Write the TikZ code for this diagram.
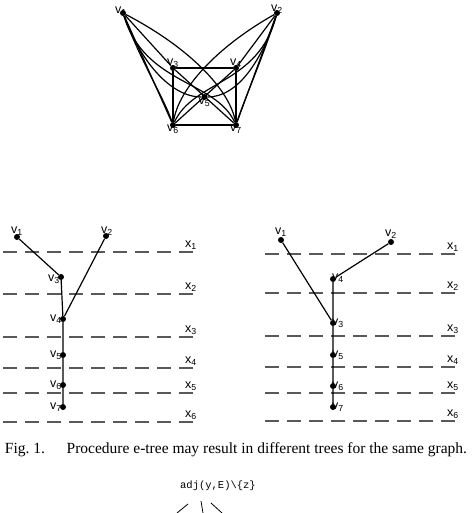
\documentclass[tikz,border=0pt]{standalone}
\usepackage{fontspec}
\setmainfont{Liberation Serif}
\setmonofont{Liberation Mono}
\newfontfamily\labfont{Liberation Sans}
\usepackage{tikz}
\usetikzlibrary{arrows.meta}
\usetikzlibrary{positioning}

\newcommand{\vl}[1]{{\labfont v\textsubscript{#1}}}
\newcommand{\xl}[1]{{\labfont x\textsubscript{#1}}}

\tikzset{
  vtx/.style={circle, fill, inner sep=0pt, minimum size=6pt},
  lab/.style={inner sep=1pt, font=\fontsize{12.5}{14}\selectfont},
  level/.style={black!65, line width=1.1pt, dash pattern=on 14pt off 8pt},
  edge/.style={line width=1.2pt}
}

\begin{document}
\begin{tikzpicture}[x=1pt, y=-1pt]
        \useasboundingbox (0, 0) rectangle (474, 513);

        % the graph
        \node [vtx] (g1) at (123, 13) {};
        \node [vtx] (g2) at (277, 13) {};
        \node [vtx] (g3) at (173, 68) {};
        \node [vtx] (g4) at (236, 68) {};
        \node [vtx] (g5) at (204.5, 97) {};
        \node [vtx] (g6) at (173, 125) {};
        \node [vtx] (g7) at (236, 125) {};
        \node [lab, above left=-4pt and -5pt] at (g1) {\vl{1}};
        \node [lab, above=-2pt] at (g2) {\vl{2}};
        \node [lab, above=-1pt] at (g3) {\vl{3}};
        \node [lab, above left=-1pt and -7pt] at (g4) {\vl{4}};
        \node [lab, below=0pt] at (g5) {\vl{5}};
        \node [lab, below=-1pt] at (g6) {\vl{6}};
        \node [lab, below=-1pt] at (g7) {\vl{7}};
        \draw [edge] (g3) -- (g4) -- (g7) -- (g6) -- (g3);
        \draw [edge] (g3) -- (g7);
        \draw [edge] (g4) -- (g6);
        \draw [edge] (g1) -- (g3);
        \draw [edge] (g1) -- (g6);
        \draw [edge] (g1) .. controls (190, 48) and (230, 90) .. (g7);
        \draw [edge] (g1) .. controls (140, 60) and (170, 97) .. (g5);
        \draw [edge] (g1) .. controls (145, 85) and (215, 80) .. (g7);
        \draw [edge] (g1) .. controls (140, 60) and (165, 100) .. (g6);
        \draw [edge] (g2) -- (g4);
        \draw [edge] (g2) -- (g7);
        \draw [edge] (g2) .. controls (215, 48) and (178, 90) .. (g6);
        \draw [edge] (g2) .. controls (262, 60) and (238, 97) .. (g5);
        \draw [edge] (g2) .. controls (258, 85) and (194, 80) .. (g6);
        \draw [edge] (g2) .. controls (262, 60) and (244, 100) .. (g7);

        % left tree
        \foreach \y/\i in {252/1, 294/2, 337/3, 368/4, 393/5, 422/6} {
            \draw [level] (3, \y) -- (193, \y);
            \node [lab, anchor=south west] at (184, \y-1) {\xl{\i}};
        }
        \node [vtx] (a1) at (17, 237) {};
        \node [vtx] (a2) at (106, 236) {};
        \node [vtx] (a3) at (61, 277) {};
        \node [vtx] (a4) at (63, 319) {};
        \node [vtx] (a5) at (63, 355) {};
        \node [vtx] (a6) at (63, 385) {};
        \node [vtx] (a7) at (63, 407) {};
        \node [lab, above=0pt] at (a1) {\vl{1}};
        \node [lab, above right=-1pt and -6pt] at (a2) {\vl{2}};
        \node [lab, below left=-3pt and 0pt] at (a3) {\vl{3}};
        \node [lab, above left=-6pt and 0pt] at (a4) {\vl{4}};
        \node [lab, left=0pt] at (a5) {\vl{5}};
        \node [lab, left=0pt] at (a6) {\vl{6}};
        \node [lab, left=0pt] at (a7) {\vl{7}};
        \draw [edge] (a1) -- (a3) -- (a4) -- (a5) -- (a6) -- (a7);
        \draw [edge] (a2) -- (a4);

        % right tree
        \foreach \y/\i in {254/1, 293/2, 336/3, 367/4, 393/5, 421/6} {
            \draw [level] (265, \y) -- (460, \y);
            \node [lab, anchor=south west] at (446, \y-1) {\xl{\i}};
        }
        \node [vtx] (b1) at (281, 240) {};
        \node [vtx] (b2) at (391, 242) {};
        \node [vtx] (b4) at (333, 279) {};
        \node [vtx] (b3) at (333, 323) {};
        \node [vtx] (b5) at (333, 355) {};
        \node [vtx] (b6) at (333, 386) {};
        \node [vtx] (b7) at (333, 407) {};
        \node [lab, above=2pt] at (b1) {\vl{1}};
        \node [lab, above=2pt] at (b2) {\vl{2}};
        \node [lab, below right=-6pt and -2pt] at (b4) {\vl{4}};
        \node [lab, right=-2pt] at (b3) {\vl{3}};
        \node [lab, right=-2pt] at (b5) {\vl{5}};
        \node [lab, right=-2pt] at (b6) {\vl{6}};
        \node [lab, right=-2pt] at (b7) {\vl{7}};
        \draw [edge] (b1) -- (b3);
        \draw [edge] (b2) -- (b4) -- (b3) -- (b5) -- (b6) -- (b7);

        % caption
        \node (cap) at (236, 450) {\fontsize{15.5}{18}\selectfont Fig.~1.\hspace{1.4em}Procedure e-tree may result in different trees for the same graph.};

        % start of the next figure
        \node (adj) at (218, 486) {\fontsize{10.5}{12}\selectfont\ttfamily adj(y,E)\textbackslash\{z\}};
        \coordinate (s1) at (177, 513);
        \coordinate (s2) at (203, 513);
        \coordinate (s3) at (222, 513);
        \draw [thick] (188, 504) -- (s1);
        \draw [thick] (201, 501) -- (s2);
        \draw [thick] (211, 503) -- (s3);
\end{tikzpicture}
\end{document}
